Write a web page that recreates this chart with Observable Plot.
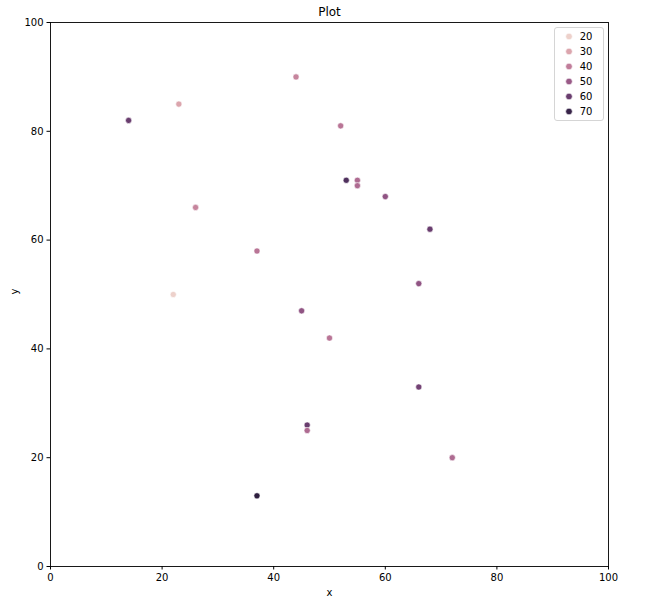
<!DOCTYPE html>
<html>
<head>
<meta charset="utf-8">
<script src="https://cdn.jsdelivr.net/npm/d3@7"></script>
<script src="https://cdn.jsdelivr.net/npm/@observablehq/plot@0.6"></script>
<style>
  html, body { margin: 0; padding: 0; background: #fff; }
  #chart { position: relative; width: 664px; height: 602px; }
  svg { font-family: "DejaVu Sans", sans-serif; }
</style>
</head>
<body>
<div id="chart"></div>
<script>
const xs  = [44, 23, 14, 52, 53, 55, 55, 60, 26, 68, 37, 66, 22, 45, 50, 66, 46, 46, 72, 37];
const ys  = [90, 85, 82, 81, 71, 71, 70, 68, 66, 62, 58, 52, 50, 47, 42, 33, 26, 25, 20, 13];
const hue = [38, 30, 60, 42, 65, 45, 45, 52, 38, 60, 42, 52, 20, 52, 42, 58, 60, 45, 45, 72];
const ticks = [0, 20, 40, 60, 80, 100];
const legendValues = [20, 30, 40, 50, 60, 70];

const data = xs.map((x, i) => ({x, y: ys[i], hue: hue[i]}));

// seaborn default cubehelix_palette(as_cmap=True)
function cubehelix(t) {
  const light = 0.85, dark = 0.15, start = 0, rot = 0.4, hueP = 0.8, gamma = 1;
  const x = light + (dark - light) * t;
  const xg = Math.pow(x, gamma);
  const a = hueP * xg * (1 - xg) / 2;
  const phi = 2 * Math.PI * (start / 3 + rot * x);
  const c = Math.cos(phi), s = Math.sin(phi);
  const clip = v => Math.max(0, Math.min(1, v));
  const r = clip(xg + a * (-0.14861 * c + 1.78277 * s));
  const g = clip(xg + a * (-0.29227 * c - 0.90649 * s));
  const b = clip(xg + a * (1.97294 * c));
  return `rgb(${Math.round(r*255)},${Math.round(g*255)},${Math.round(b*255)})`;
}

const hueExtent = d3.extent(hue);

const plot = Plot.plot({
  width: 664,
  height: 602,
  marginLeft: 50,
  marginRight: 56,
  marginTop: 22,
  marginBottom: 36,
  style: {fontFamily: "DejaVu Sans, sans-serif", fontSize: "10px", color: "#000", background: "#fff"},
  x: {domain: [0, 100], ticks: ticks, label: null},
  y: {domain: [0, 100], ticks: ticks, label: null},
  color: {type: "linear", domain: hueExtent, interpolate: cubehelix},
  marks: [
    Plot.axisX({ticks: ticks, tickSize: 3.5, tickPadding: 3.5, fontSize: 10, label: null, stroke: "#000"}),
    Plot.axisY({ticks: ticks, tickSize: 3.5, tickPadding: 3.5, fontSize: 10, label: null, stroke: "#000"}),
    Plot.dot(data, {x: "x", y: "y", fill: "hue", r: 3.1, stroke: "#fff", strokeWidth: 0.6}),
    Plot.frame({stroke: "#000", strokeWidth: 0.9}),
    Plot.text(["x"], {frameAnchor: "bottom", lineAnchor: "middle", dy: 26, text: d => d, fontSize: 10, fill: "#000"}),
    Plot.text(["y"], {frameAnchor: "left", dx: -36, rotate: -90, text: d => d, fontSize: 10, fill: "#000"}),
    Plot.text(["Plot"], {frameAnchor: "top", lineAnchor: "middle", dy: -10, text: d => d, fontSize: 12, fill: "#000"})
  ]
});

document.getElementById("chart").appendChild(plot);

// Legend (seaborn-style) drawn inside the SVG
const color = plot.scale("color");
const svg = d3.select(plot);
const lg = svg.append("g").attr("transform", "translate(554,27)");
lg.append("rect")
  .attr("x", 0.5).attr("y", 0.5).attr("width", 49).attr("height", 93)
  .attr("rx", 2.5).attr("fill", "#fff").attr("fill-opacity", 0.8)
  .attr("stroke", "#d0d0d0").attr("stroke-width", 0.9);
const rows = lg.selectAll("g.row").data(legendValues).join("g")
  .attr("transform", (d, i) => `translate(0,${9.5 + i * 15})`);
rows.append("circle").attr("cx", 15).attr("cy", 0).attr("r", 3.3)
  .attr("fill", d => color.apply(d)).attr("stroke", "#fff").attr("stroke-width", 0.6);
rows.append("text").attr("x", 32).attr("y", 0).attr("dy", "0.35em")
  .attr("font-size", 10).attr("fill", "#000").text(d => d);
</script>
</body>
</html>
